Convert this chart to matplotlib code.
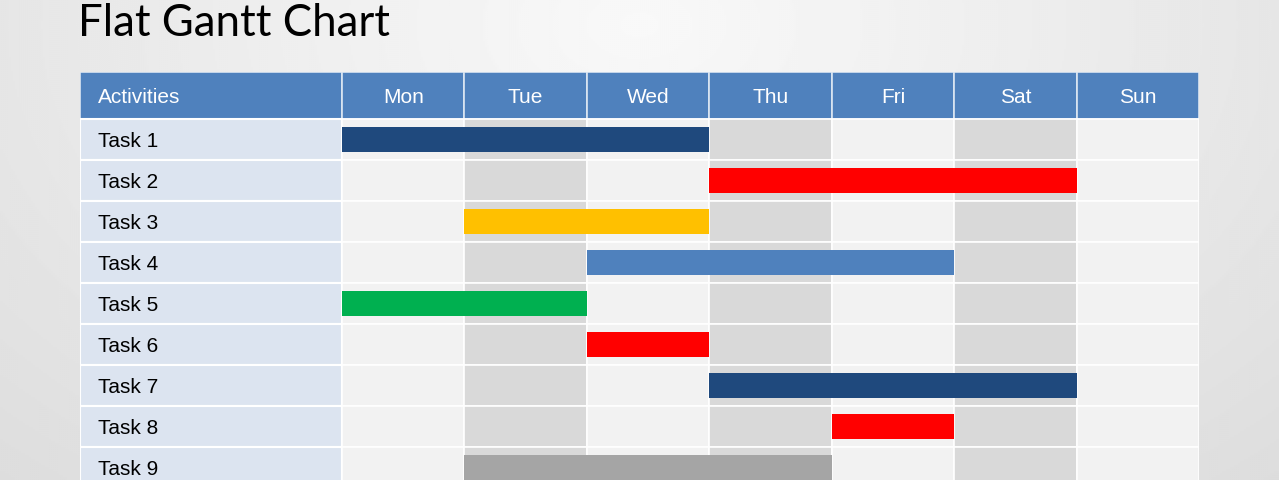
import numpy as np
import matplotlib.pyplot as plt

# data
days = ["Mon", "Tue", "Wed", "Thu", "Fri", "Sat", "Sun"]
tasks = ["Task 1", "Task 2", "Task 3", "Task 4", "Task 5",
         "Task 6", "Task 7", "Task 8", "Task 9"]
start = [0, 3, 1, 2, 0, 2, 3, 4, 1]      # day index where task begins
length = [3, 3, 2, 3, 2, 1, 3, 1, 3]     # number of days
bar_colors = ["#1F497D", "#FF0000", "#FFC000", "#4F81BD", "#00B050",
              "#FF0000", "#1F497D", "#FF0000", "#A5A5A5"]

HEADER = "#4F81BD"
ACT_BG = "#DCE4F0"
LIGHT = "#F2F2F2"
DARK = "#D9D9D9"

fig = plt.figure(figsize=(12.79, 4.80), dpi=100)

# slide background: soft radial gradient
bg = fig.add_axes([0, 0, 1, 1])
yy, xx = np.mgrid[0:1:240j, 0:1:640j]
r = np.sqrt(((xx - 0.5) / 0.75) ** 2 + ((yy - 0.05) / 1.3) ** 2)
bg.imshow(0.975 - 0.11 * r, cmap="gray", vmin=0, vmax=1, aspect="auto",
          extent=[0, 1, 0, 1], origin="upper")
bg.set_axis_off()

fig.text(78 / 1279, 1 - 36 / 480, "Flat Gantt Chart", fontsize=31.5,
         family="Lato", color="black", ha="left", va="baseline")

# table axes: x in day units (activities column ~2.14 days wide), y in rows
act_w = 262 / 122.4
hdr_h = 47 / 41
ax = fig.add_axes([80 / 1279, 0, 1119 / 1279, 408 / 480])
ax.set_xlim(-act_w, len(days))
ax.set_ylim(-hdr_h + 408 / 41, -hdr_h)
ax.set_axis_off()

FS = 15
dy = 0.05  # nudge labels to visual centre

# header
ax.bar(-act_w, hdr_h, width=act_w, bottom=-hdr_h, align="edge",
       color=HEADER, edgecolor="#DCE6F2", linewidth=1.2)
ax.bar(np.arange(len(days)), hdr_h, width=1, bottom=-hdr_h, align="edge",
       color=HEADER, edgecolor="#DCE6F2", linewidth=1.2)
ax.text(-act_w + 0.15, -hdr_h / 2 + dy, "Activities", color="white", fontsize=FS,
        family="Liberation Sans", va="center", ha="left")
for i, d in enumerate(days):
    ax.text(i + 0.5, -hdr_h / 2 + dy, d, color="white", fontsize=FS,
            family="Liberation Sans", va="center", ha="center")

# body cells
rows = np.arange(len(tasks))
ax.barh(rows, act_w, height=1, left=-act_w, align="edge",
        color=ACT_BG, edgecolor="white", linewidth=1.5)
for i in range(len(days)):
    ax.barh(rows, 1, height=1, left=i, align="edge",
            color=LIGHT if i % 2 == 0 else DARK, edgecolor="white", linewidth=1.2)
for r_, t in zip(rows, tasks):
    ax.text(-act_w + 0.15, r_ + 0.5 + dy, t, color="black", fontsize=FS,
            family="Liberation Sans", va="center", ha="left")

# gantt bars
ax.barh(rows + 0.5, length, left=start, height=0.63, color=bar_colors,
        edgecolor="none", zorder=3)

fig.savefig("out.png", dpi=100)
